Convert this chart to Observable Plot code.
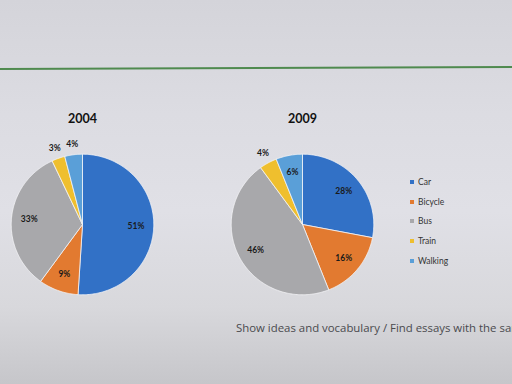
<!DOCTYPE html>
<html>
<head>
<meta charset="utf-8">
<script src="https://cdn.jsdelivr.net/npm/d3@7"></script>
<script src="https://cdn.jsdelivr.net/npm/@observablehq/plot@0.6"></script>
<style>
  html, body { margin: 0; padding: 0; width: 512px; height: 384px; overflow: hidden; }
  #page {
    position: relative; width: 512px; height: 384px; overflow: hidden;
    background: linear-gradient(to bottom, #d4d4da 0%, #dcdce2 30%, #e0e0e6 55%, #d8d8dc 80%, #c6c6ca 100%);
    font-family: Lato, "Open Sans", sans-serif;
  }
  #rule { position: absolute; left: 0; top: 67px; width: 512px; height: 2px; background: #4f8a4f; transform: rotate(-0.25deg); }
  #chart { position: absolute; left: 0; top: 0; }
  #legend { position: absolute; left: 410px; top: 172px; font-size: 8.5px; color: #333; }
  #legend .item { height: 19.8px; line-height: 12px; display: flex; align-items: center; white-space: nowrap; }
  #legend .sw { width: 4px; height: 4px; margin-right: 4px; display: inline-block; }
  #foot { position: absolute; left: 236px; top: 320px; font-size: 11.4px; color: #4a4a4e; white-space: nowrap; font-family: "Open Sans", sans-serif; }
</style>
</head>
<body>
<div id="page">
  <div id="rule"></div>
  <div id="chart"></div>
  <div id="legend"></div>
  <div id="foot">Show ideas and vocabulary / Find essays with the same question</div>
</div>
<script>
// ---- data ----
const modes = ["Car", "Bicycle", "Bus", "Train", "Walking"];
const years = ["2004", "2009"];
const values2004 = [51, 9, 33, 3, 4];
const values2009 = [28, 16, 46, 4, 6];
const colors = ["#3271c6", "#e27a30", "#a8a8ab", "#efbf2e", "#5a9fd8"];

// ---- geometry built from data ----
const byYear = {"2004": values2004, "2009": values2009};
const slices = [];
const labels = [];
for (const year of years) {
  const vals = byYear[year];
  const total = d3.sum(vals);
  let cum = 0;
  vals.forEach((v, i) => {
    const a0 = cum / total * 2 * Math.PI;
    const a1 = (cum + v) / total * 2 * Math.PI;
    cum += v;
    const key = year + "-" + modes[i];
    slices.push({year, mode: modes[i], key, x: 0, y: 0});
    const n = Math.max(2, Math.ceil((a1 - a0) / (Math.PI / 180)));
    for (let k = 0; k <= n; k++) {
      const a = a0 + (a1 - a0) * k / n;
      slices.push({year, mode: modes[i], key, x: Math.sin(a), y: Math.cos(a)});
    }
    slices.push({year, mode: modes[i], key, x: 0, y: 0});
    const am = (a0 + a1) / 2;
    const r = v <= 4 ? 1.15 : 0.75;
    labels.push({year, text: v + "%", x: r * Math.sin(am), y: r * Math.cos(am)});
  });
}

const plot = Plot.plot({
  width: 512,
  height: 384,
  marginLeft: 10,
  marginRight: 138,
  marginTop: 153,
  marginBottom: 89,
  style: {background: "transparent", fontFamily: "Lato, 'Open Sans', sans-serif"},
  fx: {domain: years, paddingInner: 76 / 220, paddingOuter: 0, axis: null},
  x: {domain: [-1.01, 1.01], axis: null},
  y: {domain: [-1.01, 1.01], axis: null},
  color: {domain: modes, range: colors},
  marks: [
    Plot.line(slices, {fx: "year", x: "x", y: "y", z: "key", fill: "mode", stroke: "#f4f4f6", strokeWidth: 0.8, curve: "linear"}),
    Plot.text(labels, {fx: "year", x: "x", y: "y", text: "text", fontSize: 8.5, fontWeight: "bold", fill: "#1a1a1a"}),
    Plot.text(years, {fx: d => d, text: d => d, frameAnchor: "top", dy: -39, fontSize: 12.5, fontWeight: "bold", fill: "#111"})
  ]
});
document.getElementById("chart").appendChild(plot);

// legend
const leg = document.getElementById("legend");
modes.forEach((m, i) => {
  const it = document.createElement("div");
  it.className = "item";
  it.innerHTML = `<span class="sw" style="background:${colors[i]}"></span>${m}`;
  leg.appendChild(it);
});
</script>
</body>
</html>
